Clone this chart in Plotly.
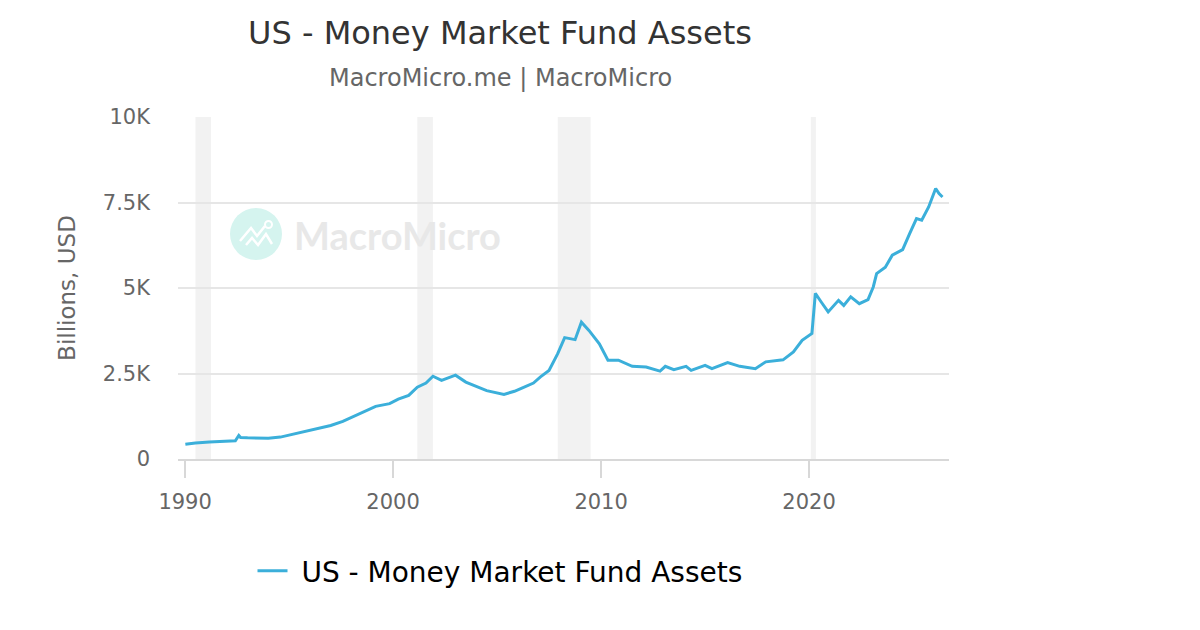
import plotly.graph_objects as go

# ---- data ----
dates = [
    "1990-01-05", "1990-07-01", "1991-03-01", "1991-10-01", "1992-06-01", "1992-08-01", "1992-09-01",
    "1993-01-01", "1994-01-01", "1994-08-01", "1995-03-01", "1995-09-01", "1996-06-01",
    "1997-01-01", "1997-08-01", "1998-04-01", "1998-10-01", "1999-03-01", "1999-11-01",
    "2000-04-01", "2000-10-01", "2001-03-01", "2001-08-01", "2001-12-01", "2002-05-01",
    "2003-01-01", "2003-07-01", "2004-01-01", "2004-07-01", "2005-05-01", "2005-11-01",
    "2006-04-01", "2006-10-01", "2007-02-01", "2007-07-01", "2007-12-01", "2008-04-01",
    "2008-10-01", "2009-01-20", "2009-06-01", "2009-12-01", "2010-05-01", "2010-11-01",
    "2011-07-01", "2012-03-01", "2012-11-01", "2013-02-01", "2013-07-01", "2014-02-01",
    "2014-05-01", "2015-01-01", "2015-05-01", "2016-02-01", "2016-09-01", "2017-06-01",
    "2017-12-01", "2018-10-01", "2019-04-01", "2019-09-01", "2020-02-20", "2020-04-20",
    "2020-08-01", "2020-12-01", "2021-06-01", "2021-09-01", "2022-01-01", "2022-06-01",
    "2022-11-01", "2023-02-01", "2023-04-01", "2023-09-01", "2024-01-01", "2024-07-01",
    "2024-11-01", "2025-03-01", "2025-06-01", "2025-10-01", "2026-02-01", "2026-04-01",
    "2026-06-01",
]
assets = [
    430, 470, 500, 520, 530, 690, 630,
    620, 610, 640, 720, 790, 880,
    980, 1100, 1280, 1420, 1540, 1620,
    1750, 1860, 2100, 2220, 2420, 2300,
    2450, 2250, 2120, 2000, 1890, 1980,
    2090, 2220, 2400, 2590, 3080, 3550,
    3490, 4000, 3760, 3370, 2890, 2890,
    2710, 2690, 2570, 2710, 2610, 2710,
    2590, 2740, 2640, 2820, 2710, 2640,
    2840, 2900, 3130, 3470, 3670, 4840,
    4590, 4300, 4640, 4490, 4740, 4540,
    4660, 5030, 5420, 5610, 5960, 6120,
    6590, 7030, 6980, 7370, 7910, 7760,
    7660,
]

recession_start = ["1990-07-01", "2001-03-01", "2007-12-01", "2020-02-01"]
recession_end = ["1991-03-31", "2001-11-30", "2009-06-30", "2020-04-30"]

y_tickvals = [0, 2500, 5000, 7500, 10000]
y_ticktext = ["0", "2.5K", "5K", "7.5K", "10K"]

series_name = "US - Money Market Fund Assets"
title_text = "US - Money Market Fund Assets"
subtitle_text = "MacroMicro.me | MacroMicro"

FONT = "DejaVu Sans"
LINE_COLOR = "#3bafda"

# plot area in pixels (for placing decorations)
PL, PR, PT, PB = 178, 949, 117, 459


def px_x(x):
    return (x - PL) / (PR - PL)


def px_y(y):
    return (PB - y) / (PB - PT)


fig = go.Figure()
fig.add_trace(go.Scatter(
    x=dates, y=assets, mode="lines", name="\u00a0" + series_name,
    line=dict(color=LINE_COLOR, width=3),
    showlegend=True,
))

shapes = []
for s, e in zip(recession_start, recession_end):
    shapes.append(dict(type="rect", xref="x", yref="paper", x0=s, x1=e, y0=0, y1=1,
                       fillcolor="#f2f2f2", line=dict(width=0), layer="below"))

# watermark circle + icon
shapes.append(dict(type="circle", xref="paper", yref="paper",
                   x0=px_x(230), x1=px_x(282), y0=px_y(260), y1=px_y(208),
                   fillcolor="#d5f4ef", line=dict(width=0), layer="below"))


def path(pts):
    return "M " + " L ".join(f"{px_x(a):.4f},{px_y(b):.4f}" for a, b in pts)


shapes.append(dict(type="path", xref="paper", yref="paper",
                   path=path([(240, 241), (251, 228), (257, 236), (265, 226)]),
                   line=dict(color="white", width=2.5), layer="below"))
shapes.append(dict(type="path", xref="paper", yref="paper",
                   path=path([(246, 245), (252, 238), (258, 245), (266, 234), (272, 244)]),
                   line=dict(color="white", width=2.5), layer="below"))
shapes.append(dict(type="circle", xref="paper", yref="paper",
                   x0=px_x(265), x1=px_x(272), y0=px_y(228), y1=px_y(221),
                   fillcolor="#d5f4ef", line=dict(color="white", width=2), layer="below"))

annotations = [
    dict(text=title_text, x=px_x(500), y=px_y(33), xref="paper", yref="paper",
         xanchor="center", yanchor="middle", showarrow=False,
         font=dict(family=FONT, size=32, color="#333333")),
    dict(text=subtitle_text, x=px_x(500), y=px_y(78), xref="paper", yref="paper",
         xanchor="center", yanchor="middle", showarrow=False,
         font=dict(family=FONT, size=24, color="#666666")),
    dict(text="<b>MacroMicro</b>", x=px_x(292), y=px_y(235), xref="paper", yref="paper",
         xanchor="left", yanchor="middle", showarrow=False,
         font=dict(family="Lato", size=38, color="#e8e8e8")),
]

fig.update_layout(
    width=1200, height=630,
    margin=dict(l=PL, r=1200 - PR, t=PT, b=630 - PB, pad=0),
    paper_bgcolor="white", plot_bgcolor="white",
    font=dict(family=FONT, color="#666666"),
    shapes=shapes,
    annotations=annotations,
    showlegend=True,
    legend=dict(orientation="h", xref="container", yref="container",
                x=500 / 1200, y=1 - 571 / 630, xanchor="center", yanchor="middle",
                font=dict(family=FONT, size=28, color="#000000"),
                itemwidth=30),
    xaxis=dict(
        type="date", range=["1989-08-29", "2026-09-23"],
        tick0="1990-01-01", dtick="M120", tickformat="%Y",
        showgrid=False, showline=True, linecolor="#d8d8d8", linewidth=2,
        ticks="outside", ticklen=17, tickcolor="#d8d8d8", tickwidth=2,
        ticklabelstandoff=6,
        tickfont=dict(family=FONT, size=21, color="#666666"),
        zeroline=False, fixedrange=True,
    ),
    yaxis=dict(
        range=[0, 10000], tickvals=y_tickvals, ticktext=y_ticktext,
        showgrid=True, gridcolor="#e6e6e6", gridwidth=2,
        zeroline=False, showline=False, ticks="",
        ticklabelstandoff=27,
        tickfont=dict(family=FONT, size=21, color="#666666"),
        title=dict(text="Billions, USD", standoff=20,
                   font=dict(family=FONT, size=23, color="#666666")),
        fixedrange=True,
    ),
)

fig.write_html("out.html")
